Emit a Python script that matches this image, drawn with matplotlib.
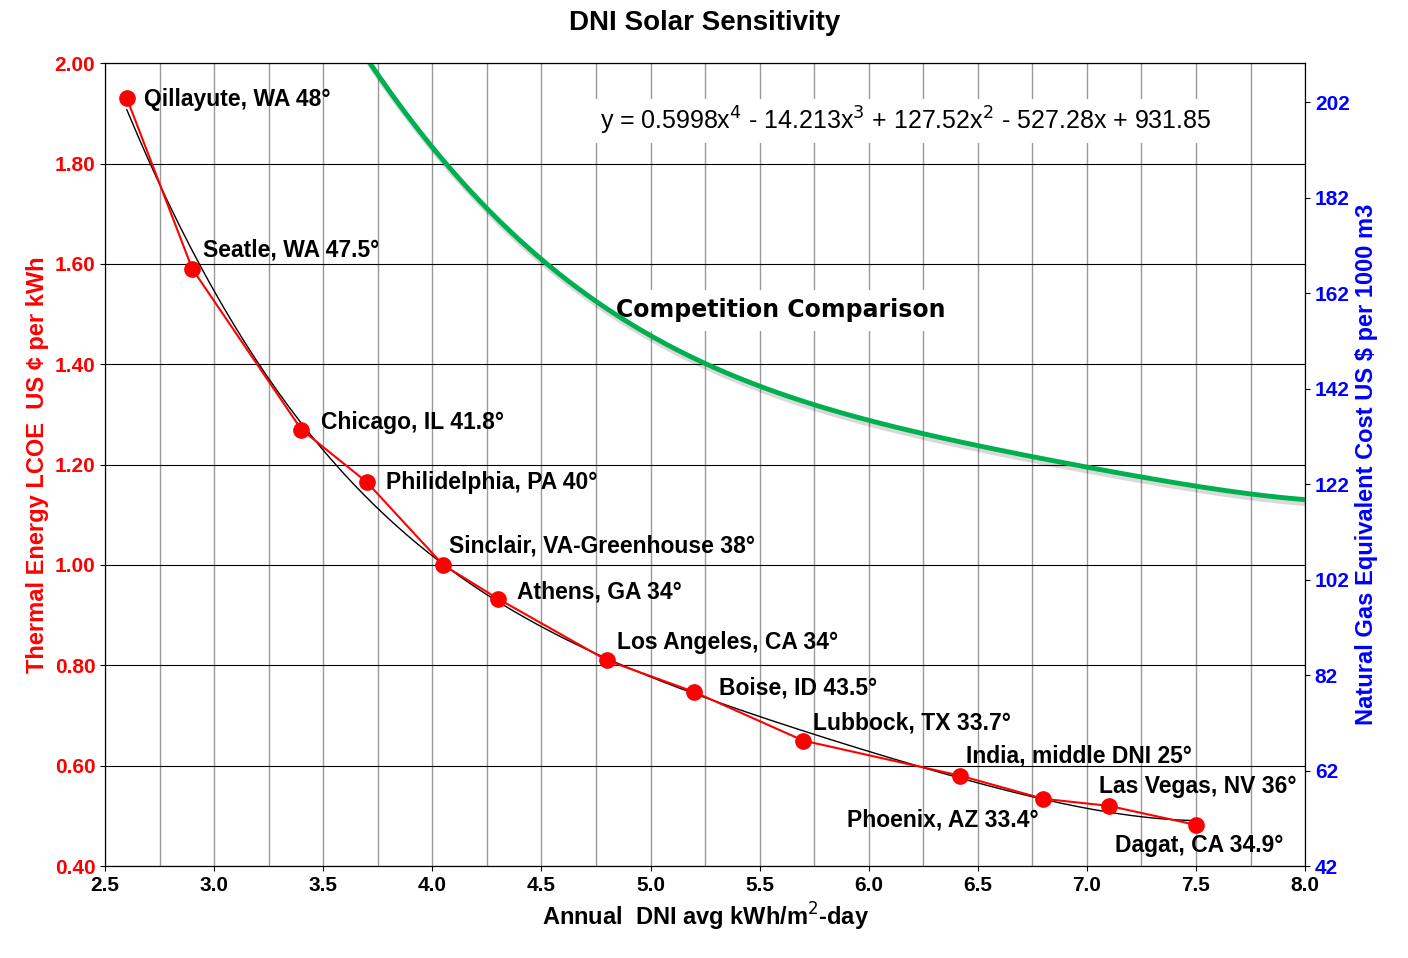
import numpy as np
import matplotlib.pyplot as plt
import matplotlib.patheffects as pe

plt.rcParams['font.family'] = ['Liberation Sans', 'DejaVu Sans']

# city data
dni = [2.6, 2.9, 3.4, 3.7, 4.05, 4.3, 4.8, 5.2, 5.7, 6.42, 6.8, 7.1, 7.5]
lcoe = [1.93, 1.59, 1.27, 1.165, 1.00, 0.933, 0.81, 0.747, 0.65, 0.58, 0.534, 0.52, 0.482]
names = ['Qillayute, WA 48°', 'Seatle, WA 47.5°', 'Chicago, IL 41.8°', 'Philidelphia, PA 40°',
         'Sinclair, VA-Greenhouse 38°', 'Athens, GA 34°', 'Los Angeles, CA 34°', 'Boise, ID 43.5°',
         'Lubbock, TX 33.7°', 'India, middle DNI 25°', 'Phoenix, AZ 33.4°', 'Las Vegas, NV 36°',
         'Dagat, CA 34.9°']
offsets = [(12, -1), (8, 14), (14, 5), (14, 0), (4, 14), (14, 5), (7, 13), (18, 3),
           (7, 13), (4, 14), (-3, -15), (-7, 14), (-58, -15)]

# competition comparison curve (right axis)
gas_x = [3.71, 3.99, 4.49, 4.86, 5.23, 5.69, 6.05, 6.51, 7.06, 7.52, 8.0]
gas_y = [210.2, 194.0, 168.4, 157.3, 148.3, 139.5, 134.3, 130.1, 125.3, 121.3, 118.8]

fig = plt.figure(figsize=(14.08, 9.58), dpi=100)
ax = fig.add_axes([0.0746, 0.096, 0.8523, 0.838])
ax2 = ax.twinx()

ax.set_xlim(2.5, 8.0)
ax.set_ylim(0.4, 2.0)
ax2.set_ylim(42, 42 + 168.2)

ax.set_xticks(np.arange(2.5, 8.01, 0.5))
ax.set_xticks(np.arange(2.5, 8.01, 0.25), minor=True)
ax.set_yticks(np.arange(0.4, 2.01, 0.2))
ax.grid(True, which='both', axis='x', color='#999999', lw=1)
ax.grid(True, which='major', axis='y', color='black', lw=0.8)
ax.tick_params(axis='x', which='minor', length=0)
ax.set_axisbelow(True)

ax.set_xticklabels(['%.1f' % v for v in np.arange(2.5, 8.01, 0.5)], fontsize=15, fontweight='bold')
ax.set_yticklabels(['%.2f' % v for v in np.arange(0.4, 2.01, 0.2)], fontsize=15, fontweight='bold', color='red')
ax2.set_yticks(np.arange(42, 203, 20))
ax2.set_yticklabels([str(v) for v in range(42, 203, 20)], fontsize=15, fontweight='bold', color='blue')

# trendline through the points
c = np.polyfit(dni, lcoe, 4)
tx = np.linspace(2.6, 7.5, 200)
ax.plot(tx, np.polyval(c, tx), color='black', lw=1)
ax.plot(dni, lcoe, color='red', lw=1.5, marker='o', ms=11, zorder=5)

for i, (xv, yv, nm, off) in enumerate(zip(dni, lcoe, names, offsets)):
    ax.annotate(nm, (xv, yv), xytext=off, textcoords='offset points', fontsize=16.5,
                fontweight='bold', va='center', ha='right' if i == 10 else 'left', zorder=6)

gx = np.linspace(gas_x[0], gas_x[-1], 300)
gc = np.polyfit(gas_x, gas_y, 5)
ax2.plot(gx, np.polyval(gc, gx), color='#00b050', lw=3.5,
         path_effects=[pe.SimpleLineShadow(offset=(1, -3), alpha=0.15), pe.Normal()])

ax.text(0.667, 0.928, 'y = 0.5998x$^4$ - 14.213x$^3$ + 127.52x$^2$ - 527.28x + 931.85',
        transform=ax.transAxes, ha='center', va='center', fontsize=18,
        bbox=dict(facecolor='white', edgecolor='none', pad=4), zorder=10)
ax.text(0.563, 0.692, 'Competition Comparison', transform=ax.transAxes, ha='center', va='center',
        fontsize=17, fontweight='bold', family='DejaVu Sans',
        bbox=dict(facecolor='white', edgecolor='none', pad=6), zorder=10)

ax.set_title('DNI Solar Sensitivity', fontsize=20, fontweight='bold', pad=24)
ax.set_xlabel('Annual  DNI avg kWh/m$^2$-day', fontsize=17, fontweight='bold')
ax.set_ylabel('Thermal Energy LCOE  US ¢ per kWh', fontsize=17, fontweight='bold', color='red')
ax2.set_ylabel('Natural Gas Equivalent Cost US $ per 1000 m3', fontsize=17, fontweight='bold', color='blue')

plt.savefig('out.png', dpi=100)
